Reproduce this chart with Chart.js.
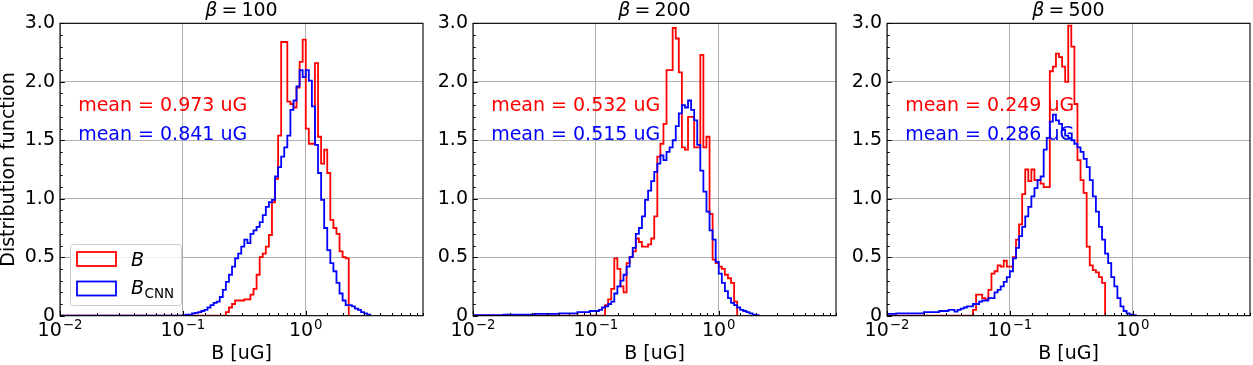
<!DOCTYPE html>
<html>
<head>
<meta charset="utf-8">
<script src="https://cdn.jsdelivr.net/npm/chart.js@4.4.1/dist/chart.umd.min.js"></script>
<style>
  html, body { margin: 0; padding: 0; background: #fff; }
  #wrap { position: relative; width: 1253px; height: 365px; overflow: hidden; }
  #wrap canvas { position: absolute; top: 0; }
</style>
</head>
<body>
<div id="wrap"></div>
<script>
// histogram bins: log spaced, 40 per decade, first edge at 0.01
const BIN_EDGE0 = 0.01;
const BINS_PER_DECADE = 40;

const betas = ['100', '200', '500'];
const meanB = ['0.973', '0.532', '0.249'];
const meanCNN = ['0.841', '0.515', '0.286'];

const yTickValues = [0, 0.5, 1.0, 1.5, 2.0, 2.5];
const yTickLabels = ['0', '0.5', '1.0', '1.5', '2.0', '3.0'];
const xTickValues = [0.01, 0.1, 1];
const xTickExponents = ['\u22122', '\u22121', '0'];

// beta = 100
const p1RedStart = 54;
const p1Red = [0.03, 0.07, 0.10, 0.13, 0.13, 0.13, 0.14, 0.14, 0.18, 0.23,
  0.35, 0.50, 0.53, 0.59, 0.69, 0.97, 1.17, 1.54, 2.34, 2.34,
  1.83, 1.81, 1.78, 1.95, 2.17, 2.36, 1.60, 1.47, 1.47, 2.16,
  1.53, 1.30, 1.42, 1.22, 0.82, 0.75, 0.70, 0.55, 0.50, 0.49];
const p1BlueStart = 40;
const p1Blue = [0.005, 0.01, 0.01, 0.02, 0.025, 0.03, 0.04, 0.05, 0.07, 0.09,
  0.11, 0.12, 0.16, 0.22, 0.29, 0.35, 0.42, 0.49, 0.53, 0.59,
  0.65, 0.62, 0.70, 0.73, 0.76, 0.80, 0.86, 0.93, 0.97, 0.99,
  1.19, 1.27, 1.36, 1.44, 1.54, 1.76, 1.84, 1.96, 2.10, 2.04,
  2.10, 2.01, 1.79, 1.46, 1.22, 0.99, 0.75, 0.56, 0.45, 0.38,
  0.28, 0.19, 0.13, 0.09, 0.09, 0.08, 0.06, 0.05, 0.03, 0.02, 0.01];

// beta = 200
const p2RedStart = 43;
const p2Red = [0.09, 0.14, 0.23, 0.49, 0.40, 0.25, 0.20,
  0.45, 0.50, 0.55, 0.66, 0.63, 0.59, 0.59, 0.61, 0.66, 0.85,
  1.36, 1.47, 1.64, 2.10, 2.10, 2.46, 2.37, 2.08, 1.44, 1.42,
  1.70, 1.70, 1.44, 1.44, 2.23, 1.44, 1.53, 0.87, 0.48, 0.45,
  0.42, 0.40, 0.35, 0.32, 0.28, 0.12];
const p2BlueStart = 0;
const p2Blue = [0.005, 0.005, 0.005, 0.005, 0.005, 0.005, 0.005, 0.005, 0.005, 0.005,
  0.01, 0.01, 0.01, 0.01, 0.01, 0.01, 0.01, 0.01, 0.01, 0.01,
  0.015, 0.015, 0.015, 0.015, 0.015, 0.015, 0.015, 0.015, 0.02, 0.02,
  0.02, 0.02, 0.02, 0.02, 0.03, 0.03, 0.03, 0.03, 0.04, 0.04,
  0.04, 0.05, 0.07, 0.08, 0.10, 0.12, 0.19, 0.25, 0.30, 0.35,
  0.42, 0.50, 0.58, 0.70, 0.75, 0.85, 0.99, 1.07, 1.15, 1.23,
  1.30, 1.37, 1.33, 1.40, 1.44, 1.50, 1.62, 1.73, 1.80, 1.78,
  1.84, 1.76, 1.67, 1.46, 1.24, 1.06, 0.89, 0.73, 0.65, 0.46,
  0.36, 0.28, 0.21, 0.15, 0.11, 0.09, 0.07, 0.05, 0.04, 0.03,
  0.02, 0.01, 0.005];

// beta = 500
const p3RedStart = 28;
const p3Red = [0.05, 0.18, 0.18, 0.15, 0.14, 0.22, 0.36, 0.38, 0.43, 0.42,
  0.47, 0.42, 0.42, 0.50, 0.65, 0.78, 1.04, 1.25, 1.15, 1.25,
  1.16, 1.16, 1.13, 1.10, 1.10, 2.09, 2.13, 2.24, 2.21, 2.13,
  2.00, 2.48, 2.30, 1.81, 1.33, 1.16, 1.05, 0.59, 0.43, 0.39,
  0.37, 0.33, 0.28];
const p3BlueStart = 0;
const p3Blue = [0.015, 0.015, 0.015, 0.02, 0.02, 0.02, 0.02, 0.02, 0.02, 0.02,
  0.02, 0.02, 0.03, 0.03, 0.03, 0.03, 0.03, 0.04, 0.04, 0.04,
  0.05, 0.05, 0.035, 0.05, 0.06, 0.07, 0.08, 0.08, 0.10, 0.10,
  0.12, 0.13, 0.13, 0.15, 0.15, 0.20, 0.22, 0.25, 0.29, 0.33,
  0.38, 0.49, 0.58, 0.68, 0.76, 0.85, 0.93, 1.02, 1.09, 1.16,
  1.19, 1.42, 1.52, 1.66, 1.72, 1.67, 1.64, 1.59, 1.54, 1.52,
  1.50, 1.47, 1.44, 1.40, 1.34, 1.27, 1.16, 1.02, 0.89, 0.76,
  0.65, 0.53, 0.45, 0.33, 0.25, 0.15, 0.08, 0.04, 0.02, 0.01, 0.005];

const redStarts = [p1RedStart, p2RedStart, p3RedStart];
const reds = [p1Red, p2Red, p3Red];
const blueStarts = [p1BlueStart, p2BlueStart, p3BlueStart];
const blues = [p1Blue, p2Blue, p3Blue];

const RED = '#ff0000';
const BLUE = '#0000ff';
const GRID = '#b0b0b0';
const FONT = '"DejaVu Sans"';

// page geometry (px)
const AREA_LEFT = [60, 473, 887];
const AREA_W = 363;
const AREA_TOP = 23.3;
const AREA_BOTTOM = 315.7;
const YAXIS_W = 60;
const PAD_R = 10;
const H = 365;

Chart.defaults.font.family = 'DejaVu Sans';
Chart.defaults.color = '#000';

function isDecade(v) {
  const l = Math.log10(v);
  return Math.abs(l - Math.round(l)) < 1e-6;
}

function binEdge(k) {
  return BIN_EDGE0 * Math.pow(10, k / BINS_PER_DECADE);
}

// step outline like histtype='step': points at left bin edges
function histPoints(start, values) {
  const pts = [{x: BIN_EDGE0, y: 0}];
  values.forEach((v, i) => pts.push({x: binEdge(start + i), y: v}));
  pts.push({x: binEdge(start + values.length), y: 0});
  return pts;
}

const panelDecor = {
  id: 'panelDecor',
  afterDatasetsDraw(chart, args, o) {
    const {ctx, chartArea: a} = chart;
    const x = chart.scales.x;
    const y = chart.scales.y;
    ctx.save();

    // inward tick marks
    ctx.strokeStyle = '#000';
    ctx.lineWidth = 1;
    ctx.beginPath();
    x.ticks.forEach(t => {
      const px = Math.round(x.getPixelForValue(t.value)) + 0.5;
      const len = isDecade(t.value) ? 4.8 : 2.7;
      ctx.moveTo(px, a.bottom);
      ctx.lineTo(px, a.bottom - len);
    });
    for (let i = 0; i <= 25; i++) {
      const py = Math.round(y.getPixelForValue(i / 10)) + 0.5;
      const len = i % 5 === 0 ? 4.8 : 2.7;
      ctx.moveTo(a.left, py);
      ctx.lineTo(a.left + len, py);
    }
    ctx.stroke();

    // frame
    ctx.lineWidth = 1.1;
    ctx.strokeRect(a.left, a.top, a.right - a.left, a.bottom - a.top);

    // x tick labels 10^n
    ctx.fillStyle = '#000';
    ctx.textAlign = 'left';
    ctx.textBaseline = 'alphabetic';
    xTickValues.forEach((v, i) => {
      const px = x.getPixelForValue(v);
      ctx.font = '19px ' + FONT;
      const wb = ctx.measureText('10').width;
      ctx.font = '13.3px ' + FONT;
      const we = ctx.measureText(xTickExponents[i]).width;
      const x0 = px - (wb + 1 + we) / 2;
      ctx.font = '19px ' + FONT;
      ctx.fillText('10', x0, 336);
      ctx.font = '13.3px ' + FONT;
      ctx.fillText(xTickExponents[i], x0 + wb + 1, 329);
    });

    // title  beta = N
    const cx = (a.left + a.right) / 2;
    ctx.font = 'italic 19px ' + FONT;
    const wBeta = ctx.measureText('\u03b2').width;
    ctx.font = '19px ' + FONT;
    const wEq = ctx.measureText('=').width;
    const wNum = ctx.measureText(o.beta).width;
    const gap = 4;
    let tx = cx - (wBeta + gap + wEq + gap + wNum) / 2;
    ctx.font = 'italic 19px ' + FONT;
    ctx.fillText('\u03b2', tx, 15.5);
    tx += wBeta + gap;
    ctx.font = '19px ' + FONT;
    ctx.fillText('=', tx, 15.5);
    tx += wEq + gap;
    ctx.fillText(o.beta, tx, 15.5);

    // mean annotations
    const ax = a.left + 0.05 * (a.right - a.left);
    ctx.fillStyle = RED;
    ctx.fillText('mean = ' + o.meanB + ' uG', ax, y.getPixelForValue(1.75));
    ctx.fillStyle = BLUE;
    ctx.fillText('mean = ' + o.meanCNN + ' uG', ax, y.getPixelForValue(1.5));

    // legend
    if (o.legend) {
      ctx.beginPath();
      ctx.roundRect(70.5, 244.5, 111, 61, 3);
      ctx.fillStyle = 'rgba(255,255,255,0.8)';
      ctx.fill();
      ctx.strokeStyle = '#cccccc';
      ctx.lineWidth = 1;
      ctx.stroke();

      ctx.lineWidth = 1.8;
      ctx.strokeStyle = RED;
      ctx.strokeRect(77, 252, 39, 14);
      ctx.strokeStyle = BLUE;
      ctx.strokeRect(77, 281.5, 39, 14);

      ctx.fillStyle = '#000';
      ctx.font = 'italic 19px ' + FONT;
      ctx.fillText('B', 131, 265.5);
      ctx.fillText('B', 131, 294);
      const wB = ctx.measureText('B').width;
      ctx.font = '13.5px ' + FONT;
      ctx.fillText('CNN', 131 + wB + 0.5, 297.5);
    }
    ctx.restore();
  }
};

function makeChart(i) {
  const canvas = document.createElement('canvas');
  canvas.width = YAXIS_W + AREA_W + PAD_R;
  canvas.height = H;
  canvas.style.left = (AREA_LEFT[i] - YAXIS_W) + 'px';
  document.getElementById('wrap').appendChild(canvas);

  return new Chart(canvas, {
    type: 'line',
    data: {
      datasets: [{
        label: 'B_CNN',
        data: histPoints(blueStarts[i], blues[i]),
        borderColor: BLUE,
        order: 0
      }, {
        label: 'B',
        data: histPoints(redStarts[i], reds[i]),
        borderColor: RED,
        order: 1
      }]
    },
    options: {
      responsive: false,
      animation: false,
      devicePixelRatio: 1,
      events: [],
      layout: {
        padding: {left: 0, right: PAD_R, top: AREA_TOP, bottom: 0}
      },
      elements: {
        point: {radius: 0},
        line: {borderWidth: 1.8, stepped: 'before', tension: 0, fill: false}
      },
      scales: {
        x: {
          type: 'logarithmic',
          min: 0.01,
          max: 9,
          afterFit: s => { s.height = H - AREA_BOTTOM; },
          border: {display: false},
          grid: {
            drawTicks: false,
            lineWidth: 1,
            color: c => (c.tick && isDecade(c.tick.value)) ? GRID : 'rgba(0,0,0,0)'
          },
          ticks: {autoSkip: false, maxRotation: 0, padding: 0, callback: () => ''},
          title: {display: true, text: 'B [uG]', font: {size: 19}, padding: 0}
        },
        y: {
          type: 'linear',
          min: 0,
          max: 2.5,
          afterFit: s => { s.width = YAXIS_W; },
          afterBuildTicks: s => { s.ticks = yTickValues.map(v => ({value: v})); },
          border: {display: false},
          grid: {drawTicks: false, lineWidth: 1, color: GRID},
          ticks: {
            padding: 5,
            font: {size: 19},
            callback: (v, idx) => yTickLabels[idx]
          },
          title: {
            display: i === 0,
            text: 'Distribution function',
            font: {size: 19, lineHeight: 1},
            padding: 0
          }
        }
      },
      plugins: {
        legend: {display: false},
        tooltip: {enabled: false},
        panelDecor: {
          beta: betas[i],
          meanB: meanB[i],
          meanCNN: meanCNN[i],
          legend: i === 0
        }
      }
    },
    plugins: [panelDecor]
  });
}

[0, 1, 2].forEach(makeChart);
</script>
</body>
</html>
